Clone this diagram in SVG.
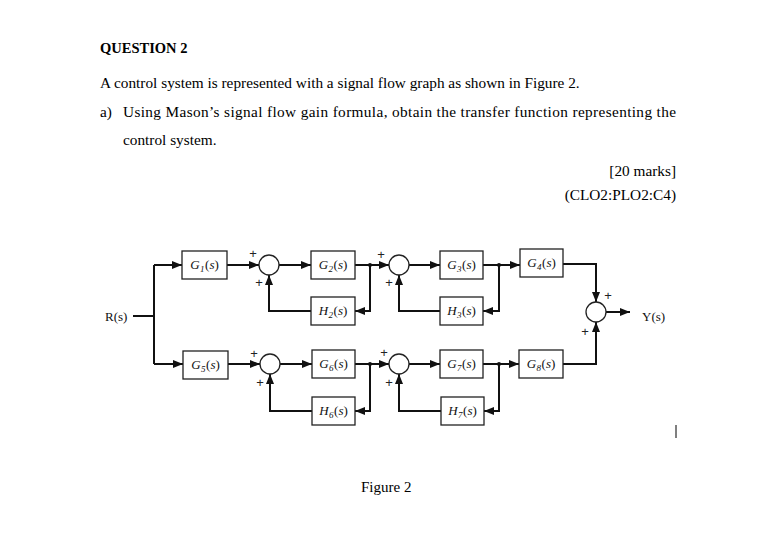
<svg xmlns="http://www.w3.org/2000/svg" width="767" height="537" viewBox="0 0 767 537">
<style>
.t{font-family:"Liberation Serif","Times New Roman",serif;fill:#000}
.box{fill:#fff;stroke:#222;stroke-width:1.3}
.sum{fill:#fff;stroke:#222;stroke-width:1.3}
.w{fill:none;stroke:#111;stroke-width:2}
.lbl{font-family:"Liberation Serif","Times New Roman",serif;font-size:13px;fill:#111}
.sub{font-size:9px;font-style:italic}
.pl{font-family:"Liberation Sans",Arial,sans-serif;font-size:13px;fill:#222;text-anchor:middle}
</style>
<defs>
<marker id="ah" markerUnits="userSpaceOnUse" markerWidth="11" markerHeight="9" refX="10" refY="4" orient="auto">
<path d="M0,0 L10,4 L0,8 z" fill="#111"/>
</marker>
</defs>
<rect width="767" height="537" fill="#fff"/>
<g id="header">
<text class="t" x="100" y="53" font-size="14.5" font-weight="bold">QUESTION 2</text>
<text class="t" x="100" y="88" font-size="15.3">A control system is represented with a signal flow graph as shown in Figure 2.</text>
<text class="t" x="100" y="117" font-size="15.3">a)</text>
<text class="t" x="123" y="117" font-size="15.3" textLength="553" lengthAdjust="spacing">Using Mason’s signal flow gain formula, obtain the transfer function representing the</text>
<text class="t" x="123" y="145" font-size="15.3">control system.</text>
<text class="t" x="676" y="176" font-size="15.3" text-anchor="end">[20 marks]</text>
<text class="t" x="676" y="200" font-size="15.3" text-anchor="end">(CLO2:PLO2:C4)</text>
<text class="t" x="361" y="492" font-size="15">Figure 2</text>
</g>
<g id="connectors">
<path class="w" d="M133,316 H154 M154,265 V364"/>
<path class="w" d="M154,265 H182" marker-end="url(#ah)"/>
<path class="w" d="M154,364 H183" marker-end="url(#ah)"/>
<path class="w" d="M227,265 H259" marker-end="url(#ah)"/>
<path class="w" d="M279,265 H311" marker-end="url(#ah)"/>
<path class="w" d="M355,265 H389" marker-end="url(#ah)"/>
<path class="w" d="M370,265 V311 H355" marker-end="url(#ah)"/>
<path class="w" d="M311,311 H269 V275" marker-end="url(#ah)"/>
<path class="w" d="M409,265 H440" marker-end="url(#ah)"/>
<path class="w" d="M483,265 H520" marker-end="url(#ah)"/>
<path class="w" d="M499,265 V311 H483" marker-end="url(#ah)"/>
<path class="w" d="M440,311 H399 V275" marker-end="url(#ah)"/>
<path class="w" d="M563,264 H596 V302" marker-end="url(#ah)"/>
<path class="w" d="M228,364 H260" marker-end="url(#ah)"/>
<path class="w" d="M280,364 H312" marker-end="url(#ah)"/>
<path class="w" d="M355,364 H389" marker-end="url(#ah)"/>
<path class="w" d="M370,364 V411 H355" marker-end="url(#ah)"/>
<path class="w" d="M312,411 H270 V374" marker-end="url(#ah)"/>
<path class="w" d="M409,364 H440" marker-end="url(#ah)"/>
<path class="w" d="M483,364 H519" marker-end="url(#ah)"/>
<path class="w" d="M499,364 V411 H484" marker-end="url(#ah)"/>
<path class="w" d="M441,411 H399 V374" marker-end="url(#ah)"/>
<path class="w" d="M563,364 H596 V322" marker-end="url(#ah)"/>
<path class="w" d="M606,312 H630" marker-end="url(#ah)"/>
<circle cx="370" cy="265" r="2" fill="#111"/>
<circle cx="499" cy="265" r="2" fill="#111"/>
<circle cx="370" cy="364" r="2" fill="#111"/>
<circle cx="499" cy="364" r="2" fill="#111"/>
</g>
<g id="R">
<text class="lbl" x="105" y="321">R(s)</text>
</g>
<g id="Y">
<text class="lbl" x="642" y="321">Y(s)</text>
</g>
<g id="G1"><rect class="box" x="182" y="251" width="45" height="28"/><text class="lbl" x="204.5" y="269" text-anchor="middle"><tspan font-style="italic">G</tspan><tspan class="sub" dx="0.5" dy="3">1</tspan><tspan dx="0.5" dy="-3">(</tspan><tspan font-style="italic">s</tspan>)</text></g>
<g id="S1"><circle class="sum" cx="269" cy="265" r="10"/><text class="pl" x="253" y="258">+</text><text class="pl" x="259" y="287">+</text></g>
<g id="G2"><rect class="box" x="311" y="251" width="44" height="28"/><text class="lbl" x="333" y="269" text-anchor="middle"><tspan font-style="italic">G</tspan><tspan class="sub" dx="0.5" dy="3">2</tspan><tspan dx="0.5" dy="-3">(</tspan><tspan font-style="italic">s</tspan>)</text></g>
<g id="H2"><rect class="box" x="311" y="297" width="44" height="28"/><text class="lbl" x="333" y="315" text-anchor="middle"><tspan font-style="italic">H</tspan><tspan class="sub" dx="0.5" dy="3">2</tspan><tspan dx="0.5" dy="-3">(</tspan><tspan font-style="italic">s</tspan>)</text></g>
<g id="S2"><circle class="sum" cx="399" cy="265" r="10"/><text class="pl" x="381" y="259">+</text><text class="pl" x="389" y="287">+</text></g>
<g id="G3"><rect class="box" x="440" y="251" width="43" height="28"/><text class="lbl" x="461.5" y="269" text-anchor="middle"><tspan font-style="italic">G</tspan><tspan class="sub" dx="0.5" dy="3">3</tspan><tspan dx="0.5" dy="-3">(</tspan><tspan font-style="italic">s</tspan>)</text></g>
<g id="H3"><rect class="box" x="440" y="297" width="43" height="28"/><text class="lbl" x="461.5" y="315" text-anchor="middle"><tspan font-style="italic">H</tspan><tspan class="sub" dx="0.5" dy="3">3</tspan><tspan dx="0.5" dy="-3">(</tspan><tspan font-style="italic">s</tspan>)</text></g>
<g id="G4"><rect class="box" x="520" y="249" width="43" height="28"/><text class="lbl" x="541.5" y="267" text-anchor="middle"><tspan font-style="italic">G</tspan><tspan class="sub" dx="0.5" dy="3">4</tspan><tspan dx="0.5" dy="-3">(</tspan><tspan font-style="italic">s</tspan>)</text></g>
<g id="G5"><rect class="box" x="183" y="351" width="45" height="28"/><text class="lbl" x="205.5" y="369" text-anchor="middle"><tspan font-style="italic">G</tspan><tspan class="sub" dx="0.5" dy="3">5</tspan><tspan dx="0.5" dy="-3">(</tspan><tspan font-style="italic">s</tspan>)</text></g>
<g id="S5"><circle class="sum" cx="270" cy="364" r="10"/><text class="pl" x="254" y="358">+</text><text class="pl" x="260" y="387">+</text></g>
<g id="G6"><rect class="box" x="312" y="350" width="43" height="28"/><text class="lbl" x="333.5" y="368" text-anchor="middle"><tspan font-style="italic">G</tspan><tspan class="sub" dx="0.5" dy="3">6</tspan><tspan dx="0.5" dy="-3">(</tspan><tspan font-style="italic">s</tspan>)</text></g>
<g id="H6"><rect class="box" x="312" y="397" width="43" height="28"/><text class="lbl" x="333.5" y="415" text-anchor="middle"><tspan font-style="italic">H</tspan><tspan class="sub" dx="0.5" dy="3">6</tspan><tspan dx="0.5" dy="-3">(</tspan><tspan font-style="italic">s</tspan>)</text></g>
<g id="S6"><circle class="sum" cx="399" cy="364" r="10"/><text class="pl" x="384" y="357">+</text><text class="pl" x="389" y="387">+</text></g>
<g id="G7"><rect class="box" x="440" y="350" width="43" height="28"/><text class="lbl" x="461.5" y="368" text-anchor="middle"><tspan font-style="italic">G</tspan><tspan class="sub" dx="0.5" dy="3">7</tspan><tspan dx="0.5" dy="-3">(</tspan><tspan font-style="italic">s</tspan>)</text></g>
<g id="H7"><rect class="box" x="441" y="397" width="43" height="28"/><text class="lbl" x="462.5" y="415" text-anchor="middle"><tspan font-style="italic">H</tspan><tspan class="sub" dx="0.5" dy="3">7</tspan><tspan dx="0.5" dy="-3">(</tspan><tspan font-style="italic">s</tspan>)</text></g>
<g id="G8"><rect class="box" x="519" y="350" width="44" height="28"/><text class="lbl" x="541" y="368" text-anchor="middle"><tspan font-style="italic">G</tspan><tspan class="sub" dx="0.5" dy="3">8</tspan><tspan dx="0.5" dy="-3">(</tspan><tspan font-style="italic">s</tspan>)</text></g>
<g id="Sout"><circle class="sum" cx="596" cy="312" r="10"/><text class="pl" x="608" y="300">+</text><text class="pl" x="585" y="336">+</text></g>
<line x1="676" y1="425" x2="676" y2="438" stroke="#000" stroke-width="1"/>
</svg>
